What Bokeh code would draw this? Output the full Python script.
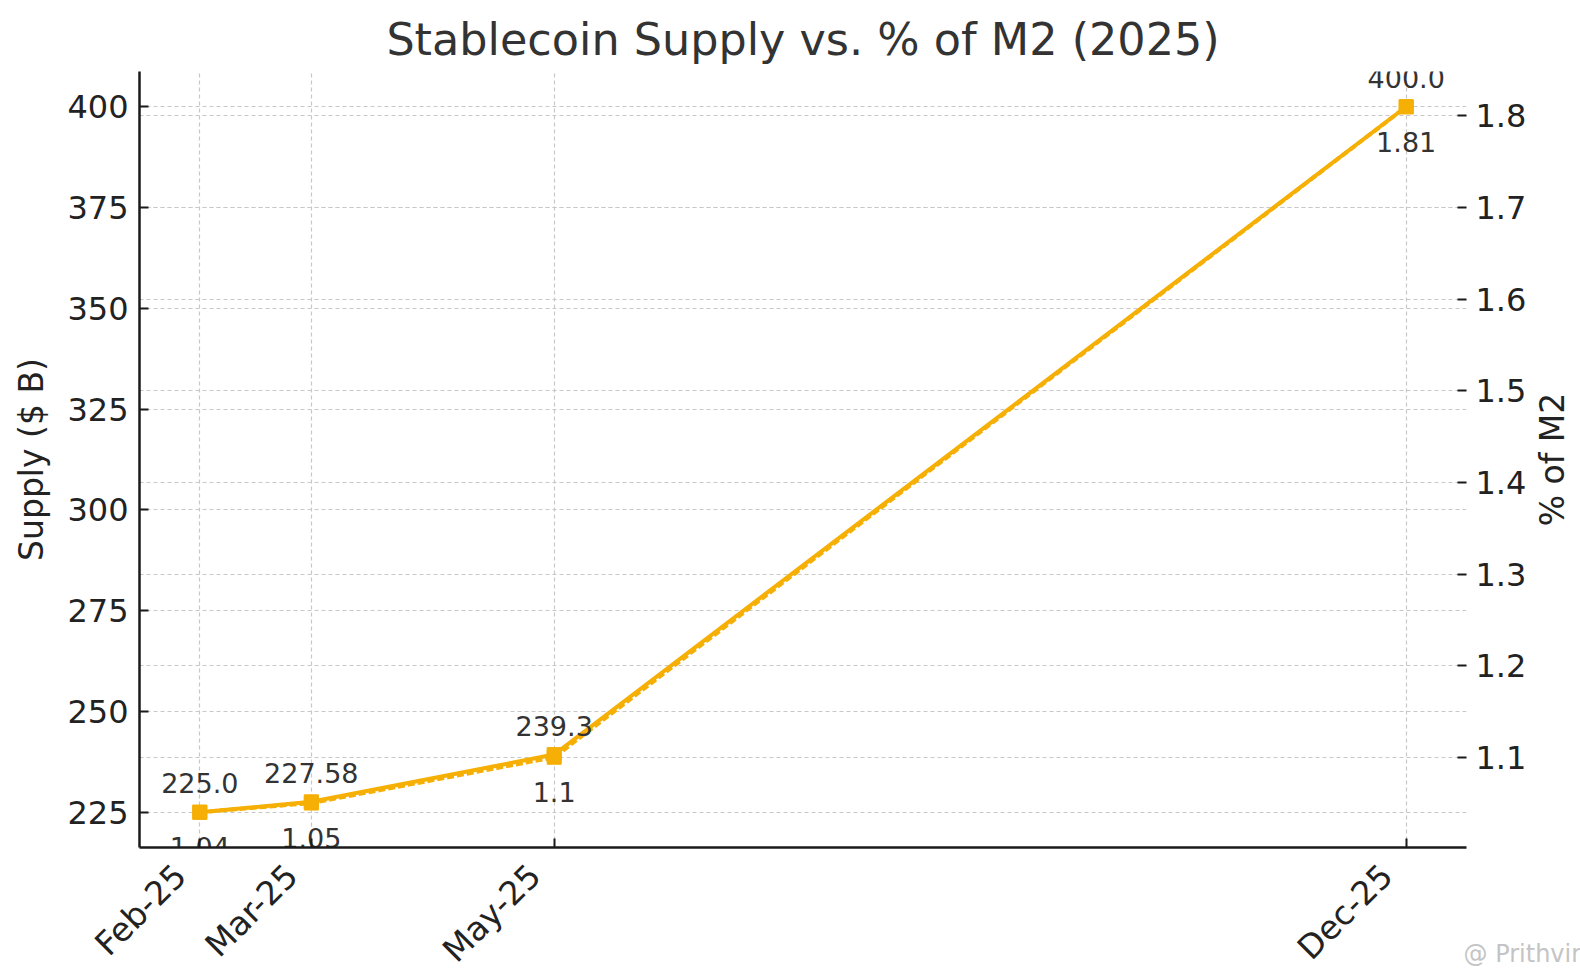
from datetime import datetime
from bokeh.plotting import figure
from bokeh.models import (Range1d, LinearAxis, FixedTicker, DatetimeTickFormatter,
                          Grid, ColumnDataSource, Label)
from bokeh.core.properties import value
from bokeh.embed import file_html
from bokeh.resources import INLINE
import math

# ---- data ----
months = ["2025-02-01", "2025-03-01", "2025-05-01", "2025-12-01"]
supply = [225.0, 227.58, 239.3, 400.0]
supply_labels = ["225.0", "227.58", "239.3", "400.0"]
m2_pct = [1.04, 1.05, 1.1, 1.81]
m2_labels = ["1.04", "1.05", "1.1", "1.81"]
supply_ticks = [225, 250, 275, 300, 325, 350, 375, 400]
m2_ticks = [1.1, 1.2, 1.3, 1.4, 1.5, 1.6, 1.7, 1.8]

dates = [datetime.strptime(m, "%Y-%m-%d") for m in months]
date_ms = [(d - datetime(1970, 1, 1)).total_seconds() * 1000 for d in dates]

COLOR = "#f5af05"
FONT = "DejaVu Sans"

# layout (pixels)
FW, FH = 1327, 776
BL, BT, BR, BB = 139, 71, 122, 280

span_ms = date_ms[-1] - date_ms[0]
x0 = date_ms[0] - span_ms * 0.05
x1 = date_ms[-1] + span_ms * 0.05

s_lo, s_hi = min(supply), max(supply)
s_pad = (s_hi - s_lo) * 0.05
y0, y1 = s_lo - s_pad, s_hi + s_pad
m_lo, m_hi = min(m2_pct), max(m2_pct)
m_pad = (m_hi - m_lo) * 0.05
m_start, m_end = m_lo - m_pad, m_hi + m_pad

def px_to_x(px):
    return x0 + (px - BL) / FW * (x1 - x0)

def py_to_y(py):
    return y1 - (py - BT) / FH * (y1 - y0)

p = figure(width=BL + FW + BR, height=BT + FH + BB, frame_width=FW, frame_height=FH,
           min_border_left=BL, min_border_right=BR, min_border_top=BT, min_border_bottom=BB,
           x_axis_type="datetime", x_range=Range1d(x0, x1), y_range=Range1d(y0, y1),
           output_backend="svg", toolbar_location=None,
           title="Stablecoin Supply vs. % of M2 (2025)")
p.extra_y_ranges = {"m2": Range1d(m_start, m_end)}
p.outline_line_color = None
p.background_fill_color = "white"
p.border_fill_color = "white"

p.title.text_font = FONT
p.title.text_font_size = "44.5px"
p.title.text_font_style = "normal"
p.title.text_color = "#333333"
p.title.align = "center"
p.title.offset = -14
p.title.standoff = 14

# x axis
xa = p.xaxis[0]
xa.ticker = FixedTicker(ticks=date_ms)
fmt = "%b-%y\u00a0\u00a0\u2009"
xa.formatter = DatetimeTickFormatter(microseconds=fmt, milliseconds=fmt, seconds=fmt,
                                     minsec=fmt, minutes=fmt, hourmin=fmt, hours=fmt,
                                     days=fmt, months=fmt, years=fmt)
xa.major_label_orientation = math.pi / 4
# left axis
ya = p.yaxis[0]
ya.ticker = FixedTicker(ticks=supply_ticks)
ya.axis_label = "Supply ($ B)"
# right axis (its title is drawn as a rotated label below)
ra = LinearAxis(y_range_name="m2")
ra.ticker = FixedTicker(ticks=m2_ticks)
p.add_layout(ra, "right")

for ax in (xa, ya, ra):
    ax.axis_line_width = 2.5
    ax.axis_line_color = "#1a1a1a"
    ax.major_tick_line_width = 2
    ax.major_tick_line_color = "#1a1a1a"
    ax.major_tick_in = 9
    ax.major_tick_out = 0
    ax.minor_tick_line_color = None
    ax.major_label_text_font = FONT
    ax.major_label_text_font_size = "32px"
    ax.major_label_text_color = "#222222"
    ax.major_label_standoff = 11
    ax.axis_label_text_font = FONT
    ax.axis_label_text_font_size = "33px"
    ax.axis_label_text_font_style = "normal"
    ax.axis_label_text_color = "#222222"
    ax.axis_label_standoff = 13
ra.axis_line_color = None
ra.major_label_standoff = 9
xa.major_label_standoff = 3
xa.major_label_text_font_size = "33px"

# grids
for g in p.grid:
    g.grid_line_color = "#c8c8c8"
    g.grid_line_dash = "4 3"
    g.grid_line_width = 1.2
g2 = Grid(dimension=1, ticker=ra.ticker, y_range_name="m2",
          grid_line_color="#c8c8c8", grid_line_dash="4 3", grid_line_width=1.2)
p.add_layout(g2)

src = ColumnDataSource(dict(x=date_ms, supply=supply, m2=m2_pct,
                            sl=supply_labels, ml=m2_labels))

p.line("x", "m2", source=src, y_range_name="m2", line_color=COLOR, line_width=4,
       line_dash="7 3")
p.scatter("x", "m2", source=src, y_range_name="m2", marker="square", size=14,
          fill_color=COLOR, line_color=COLOR)
p.line("x", "supply", source=src, line_color=COLOR, line_width=4)
p.scatter("x", "supply", source=src, marker="square", size=14,
          fill_color=COLOR, line_color=COLOR)

p.text("x", "supply", text="sl", source=src, text_font=value(FONT), text_font_size="27px",
       text_color="#333333", text_align="center", text_baseline="alphabetic", y_offset=-29)
p.text("x", "m2", text="ml", source=src, y_range_name="m2", text_font=value(FONT),
       text_font_size="27px", text_color="#333333", text_align="center",
       text_baseline="alphabetic", y_offset=35)

# right axis title, reading bottom to top
p.add_layout(Label(x=px_to_x(1552), y=(y0 + y1) / 2, text="% of M2", angle=math.pi / 2,
                   text_align="center", text_baseline="middle", text_font=FONT,
                   text_font_size="33px", text_color="#222222"), "below")
# watermark
p.add_layout(Label(x=px_to_x(1463), y=py_to_y(953), text="@ Prithvir",
                   text_align="left", text_baseline="middle", text_font=FONT,
                   text_font_size="24px", text_color="#c4c4c4"), "below")

open("out.html", "w").write(file_html(p, INLINE))
